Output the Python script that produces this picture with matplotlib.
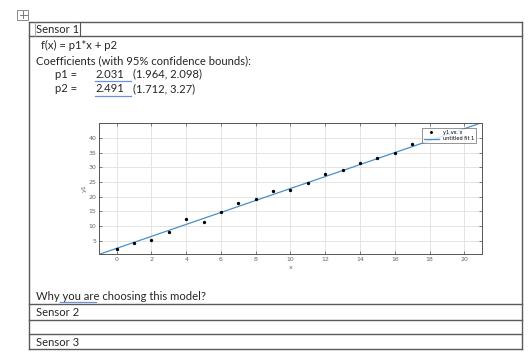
import numpy as np
import matplotlib.pyplot as plt
from matplotlib.patches import Rectangle

# data
x = np.arange(0, 18)
y1 = [2.4, 4.45, 5.35, 8.2, 12.6, 11.3, 14.75, 17.97, 19.3, 21.95,
      22.4, 24.7, 27.8, 29.2, 31.3, 33.2, 34.7, 38.0]
p1 = 2.031
p2 = 2.491
p1_bounds = "(1.964, 2.098)"
p2_bounds = "(1.712, 3.27)"
xticks = np.arange(0, 21, 2)
yticks = np.arange(5, 41, 5)

W, H = 530, 358
fig = plt.figure(figsize=(W / 100, H / 100), dpi=100)
fig.patch.set_facecolor('white')

# page layer in pixel coords
pg = fig.add_axes([0, 0, 1, 1])
pg.set_xlim(0, W)
pg.set_ylim(H, 0)
pg.axis('off')

font = 'Lato'
tc = '#262626'
lc = '#5a5a5a'

# table borders
L, R = 29.3, 522.3
for yy in [22, 36, 304.3, 319.7, 334.3, 349.3]:
    pg.plot([L, R], [yy, yy], color=lc, lw=1.0)
pg.plot([L, L], [22, 349.3], color=lc, lw=1.0)
pg.plot([R, R], [22, 349.3], color=lc, lw=1.0)
# cursor marks in first row
pg.plot([35, 35], [22, 36], color='#9a9a9a', lw=0.6)
pg.plot([79.5, 79.5], [22, 36], color='#555555', lw=0.8)

# move handle
pg.add_patch(Rectangle((17.3, 9.5), 11, 10, fill=False, ec='#8a8a8a', lw=0.7))
pg.plot([19.5, 26.5], [14.5, 14.5], color='#666666', lw=0.6)
pg.plot([22.8, 22.8], [11.3, 17.8], color='#666666', lw=0.6)

fs = 8.1
pg.text(36, 29.5, "Sensor 1", fontsize=fs, family=font, color=tc, va='center')
pg.text(41, 45, "f(x) = p1*x + p2", fontsize=fs, family=font, color=tc, va='center')
pg.text(36, 61, "Coefficients (with 95% confidence bounds):", fontsize=fs, family=font, color=tc, va='center')
pg.text(55, 74, "p1 =", fontsize=fs, family=font, color=tc, va='center')
pg.text(95, 74, f"{p1:.3f}", fontsize=fs, family=font, color=tc, va='center')
pg.text(133, 74, p1_bounds, fontsize=fs, family=font, color=tc, va='center')
pg.text(55, 89, "p2 =", fontsize=fs, family=font, color=tc, va='center')
pg.text(95, 89, f"{p2:.3f}", fontsize=fs, family=font, color=tc, va='center')
pg.text(133, 89, p2_bounds, fontsize=fs, family=font, color=tc, va='center')
pg.text(36, 296.5, "Why you are choosing this model?", fontsize=fs, family=font, color=tc, va='center')
pg.text(36, 312.3, "Sensor 2", fontsize=fs, family=font, color=tc, va='center')
pg.text(36, 342.3, "Sensor 3", fontsize=fs, family=font, color=tc, va='center')

# spell-check underlines
for yy in [80.5, 95.5]:
    pg.plot([95, 131], [yy, yy], color='#6f8fdc', lw=0.9)
pg.plot([60, 96], [302, 302], color='#6f8fdc', lw=0.9)

# the embedded matlab figure
al, ar, at, ab = 99.3, 481.7, 122.7, 254.3
ax = fig.add_axes([al / W, 1 - ab / H, (ar - al) / W, (ab - at) / H])
xl = np.array([-1, 21])
ax.plot(x, y1, 'o', color='black', ms=1.4, label='y1 vs. x', zorder=3)
ax.plot(xl, p1 * xl + p2, color='#4a90c8', lw=0.9, label='untitled fit 1')
ax.set_xlim(-1, 21)
ax.set_ylim(p1 * -1 + p2, p1 * 21 + p2)
ax.set_xticks(xticks)
ax.set_yticks(yticks)
ax.grid(True, color='#e4e4e4', lw=0.7)
ax.set_axisbelow(True)
ax.tick_params(direction='in', length=2.5, width=0.6, labelsize=4.5,
               colors='#666666', top=True, right=True, pad=2)
for s in ax.spines.values():
    s.set_color('#555555')
    s.set_linewidth(0.7)
ax.set_xlabel('x', fontsize=4.6, color='#666666', labelpad=2)
ax.set_ylabel('y1', fontsize=4.6, color='#666666', labelpad=1)
leg = ax.legend(loc='upper right', fontsize=3.6, frameon=True, fancybox=False,
                edgecolor='#444444', borderpad=0.4, handlelength=3.0,
                labelspacing=0.25, borderaxespad=1.1, markerscale=0.8)
leg.get_frame().set_linewidth(0.5)

fig.savefig('out.png', dpi=100)
